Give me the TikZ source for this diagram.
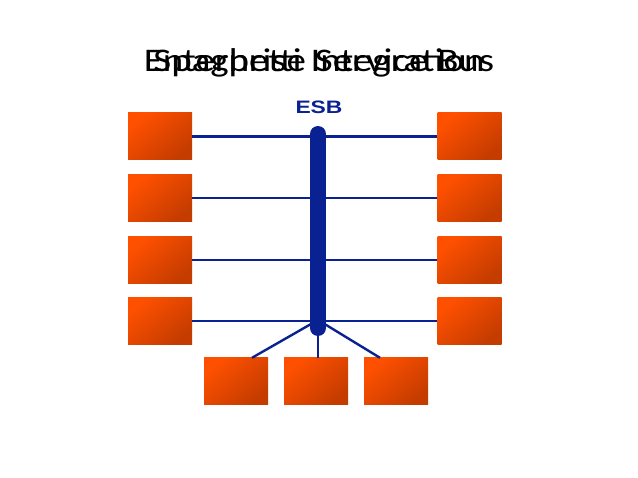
\documentclass[tikz,border=0pt]{standalone}
\usepackage{fontspec}
\setmainfont{Carlito}
\newfontfamily\esbfont{Liberation Sans}
\begin{document}
\begin{tikzpicture}[x=1pt, y=-1pt]
    % Define custom colors
    \definecolor{boxlight}{RGB}{255,80,0}
    \definecolor{boxdark}{RGB}{196,60,0}
    \definecolor{busblue}{RGB}{10,34,145}

    \tikzset{
        sysbox/.style={minimum width=64pt, minimum height=47pt, inner sep=0pt,
            top color=boxlight, bottom color=boxdark, shading angle=40},
        link/.style={busblue, line width=2.4pt},
        titletext/.style={font=\fontsize{33}{36}\selectfont}
    }

    % Canvas
    \useasboundingbox (0,0) rectangle (638,478);

    % Titles (drawn on top of each other)
    \node[titletext] (title1) at (319,63) {\scalebox{1.18}[1]{Spaghetti Integration}};
    \node[titletext] (title2) at (319,63) {\scalebox{1.18}[1]{Enterprise Service Bus}};

    % Left column
    \node[sysbox] (l1) at (160,136.5) {};
    \node[sysbox] (l2) at (160,198) {};
    \node[sysbox] (l3) at (160,260) {};
    \node[sysbox] (l4) at (160,321) {};

    % Right column
    \node[sysbox] (r1) at (469.5,136.5) {};
    \node[sysbox] (r2) at (469.5,198) {};
    \node[sysbox] (r3) at (469.5,260) {};
    \node[sysbox] (r4) at (469.5,321) {};

    % Bottom row
    \node[sysbox] (b1) at (236,381.5) {};
    \node[sysbox] (b2) at (316,381.5) {};
    \node[sysbox] (b3) at (396,381.5) {};

    % Horizontal links
    \foreach \i in {1,...,4}
        \draw[link] (l\i.east) -- (r\i.west);

    % Bus
    \coordinate (bustop) at (318,134);
    \coordinate (busbot) at (318,328);
    \coordinate (hub) at (318,320);
    \draw[link] (hub) -- ([xshift=16pt]b1.north);
    \draw[link] (hub) -- (b2.north -| hub);
    \draw[link] (hub) -- ([xshift=-16pt]b3.north);
    \draw[busblue, line width=16pt, line cap=round] (bustop) -- (busbot);

    % Label
    \node[busblue, font=\esbfont\bfseries\fontsize{18}{20}\selectfont] (esb) at (319,107)
        {\scalebox{1.27}[1]{ESB}};
\end{tikzpicture}
\end{document}
